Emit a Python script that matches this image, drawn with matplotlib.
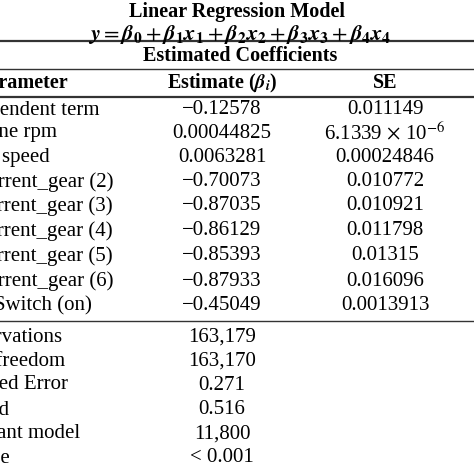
import matplotlib
matplotlib.use("Agg")
import matplotlib.pyplot as plt

plt.rcParams['mathtext.fontset'] = 'stix'
FONT = 'Liberation Serif'

params = ["Independent term", "Engine rpm", "Vehicle speed", "current_gear (2)", "current_gear (3)",
          "current_gear (4)", "current_gear (5)", "current_gear (6)", "ECO Switch (on)"]
estimates = ["\u22120.12578", "0.00044825", "0.0063281", "\u22120.70073", "\u22120.87035",
             "\u22120.86129", "\u22120.85393", "\u22120.87933", "\u22120.45049"]
ses = ["0.011149", r"6.1339 $\times$ 10$^{-6}$", "0.00024846", "0.010772", "0.010921",
       "0.011798", "0.01315", "0.016096", "0.0013913"]
stats_labels = ["Number of observations", "Error degrees of freedom", "Root Mean Squared Error",
                "R-squared", "F-statistic vs. constant model", "p-value"]
stats_values = ["163,179", "163,170", "0.271", "0.516", "11,800", "< 0.001"]

H = 474
fig = plt.figure(figsize=(4.74, 4.74), dpi=100)
fs = 15
fsb = 14.5

def t(x, y, s, ha='center', size=fs, **kw):
    fig.text(x / H, 1 - y / H, s, ha=ha, va='center', fontsize=size, family=FONT, **kw)

def hline(y, lw):
    fig.add_artist(plt.Line2D([0, 1], [1 - y / H, 1 - y / H], color='#333333', lw=lw))

t(237, 12, "Linear Regression Model", size=fsb, weight='bold')
fig.text(240 / H, 1 - 34 / H,
         r"$\mathbfit{y} = \mathbfit{\beta}_{\mathbf{0}} + \mathbfit{\beta}_{\mathbf{1}}\mathbfit{x}_{\mathbf{1}} + \mathbfit{\beta}_{\mathbf{2}}\mathbfit{x}_{\mathbf{2}} + \mathbfit{\beta}_{\mathbf{3}}\mathbfit{x}_{\mathbf{3}} + \mathbfit{\beta}_{\mathbf{4}}\mathbfit{x}_{\mathbf{4}}$",
         ha='center', va='center', fontsize=16)
hline(41, 1.6)
t(240, 56, "Estimated Coefficients", size=fsb, weight='bold')
hline(69, 1.0)
t(68, 83, "Parameter", ha='right', size=fsb, weight='bold')
t(222, 83, r"Estimate ($\mathbfit{\beta}_{\mathbfit{i}}$)", size=fsb, weight='bold')
t(385, 83, "SE", size=fsb, weight='bold')
hline(97, 1.6)

row_y = [110, 133, 157, 182, 206, 231, 256, 281, 306]
ends = [100, 57, 50, 113, 113, 113, 113, 113, 92]
for y, e, p, est, se in zip(row_y, ends, params, estimates, ses):
    t(e, y, p, ha='right')
    t(222, y, est)
    t(385, y, se)
hline(321, 1.0)

stat_y = [337, 361, 385, 410, 434, 458]
stat_ends = [62, 65, 68, 10, 80, 10]
for y, e, lab, v in zip(stat_y, stat_ends, stats_labels, stats_values):
    t(e, y, lab, ha='right')
    t(222, y, v)

fig.savefig("out.png", dpi=100, facecolor='white')
